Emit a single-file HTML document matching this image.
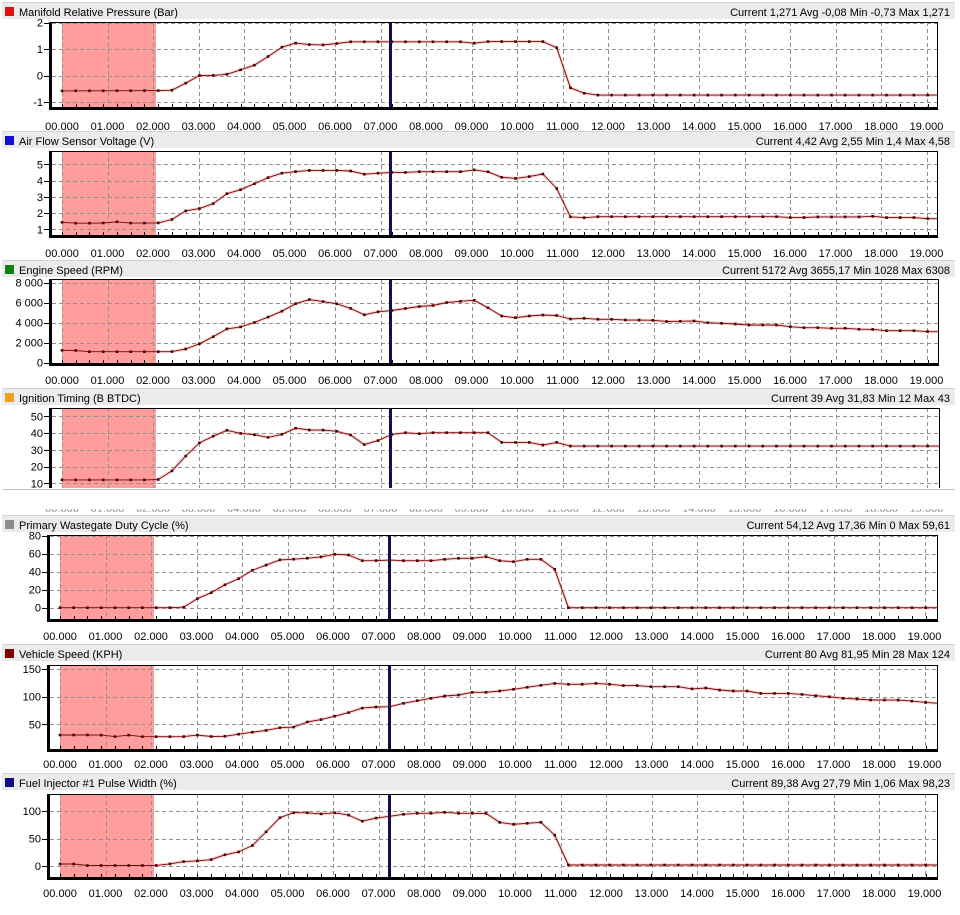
<!DOCTYPE html>
<html><head><meta charset="utf-8">
<style>
html,body{margin:0;padding:0;background:#fff;}
svg{display:block;}
text{font-family:"Liberation Sans",Arial,sans-serif;font-size:11px;fill:#000;}
</style></head>
<body>
<svg id="s" width="960" height="915" viewBox="0 0 960 915" xmlns="http://www.w3.org/2000/svg"></svg>
<script>
const P=[
{t:"Manifold Relative Pressure (Bar)",c:"#e01010",st:"Current 1,271 Avg -0,08 Min -0,73 Max 1,271",h:2,top:22,bot:107,lab:130,x0:62,L:52,R:937,cx:389,re:156,b:75.5,m:26.5,
 tk:[[2,"2"],[1,"1"],[0,"0"],[-1,"-1"]],
 kp:[[0,-0.58],[2.1,-0.57],[2.4,-0.57],[2.7,-0.31],[3.0,0],[3.3,0],[3.6,0.03],[3.9,0.2],[4.2,0.36],[4.5,0.68],[4.8,1.05],[5.1,1.23],[5.4,1.17],[5.7,1.15],[6.0,1.2],[6.3,1.27],[8.9,1.27],[9.06,1.22],[9.3,1.28],[10.57,1.28],[10.87,1.06],[11.17,-0.46],[11.48,-0.67],[11.78,-0.74],[20,-0.74]]},
{t:"Air Flow Sensor Voltage (V)",c:"#1010d0",st:"Current 4,42 Avg 2,55 Min 1,4 Max 4,58",h:131,top:151,bot:235,lab:257,x0:62,L:52,R:937,cx:389,re:156,b:245.5,m:16.25,
 tk:[[5,"5"],[4,"4"],[3,"3"],[2,"2"],[1,"1"]],
 kp:[[0,1.43],[0.3,1.37],[0.9,1.38],[1.2,1.46],[1.5,1.38],[2.1,1.38],[2.4,1.57],[2.7,2.12],[3.0,2.25],[3.3,2.53],[3.6,3.17],[3.9,3.4],[4.2,3.77],[4.5,4.15],[4.8,4.44],[5.1,4.54],[5.4,4.62],[6.3,4.62],[6.6,4.38],[6.9,4.44],[7.2,4.5],[7.55,4.5],[7.85,4.54],[8.76,4.54],[9.06,4.65],[9.36,4.54],[9.66,4.2],[9.96,4.13],[10.27,4.24],[10.57,4.4],[10.87,3.52],[11.17,1.77],[11.48,1.71],[11.78,1.77],[15.7,1.77],[16.0,1.72],[16.3,1.72],[16.6,1.76],[17.5,1.76],[17.8,1.8],[18.1,1.72],[18.7,1.72],[19.03,1.65],[20,1.64]]},
{t:"Engine Speed (RPM)",c:"#108010",st:"Current 5172 Avg 3655,17 Min 1028 Max 6308",h:260,top:279,bot:363,lab:384,x0:62,L:52,R:938,cx:389,re:156,b:362.5,m:0.01,
 tk:[[8000,"8 000"],[6000,"6 000"],[4000,"4 000"],[2000,"2 000"],[0,"0"]],
 kp:[[0,1220],[0.3,1200],[0.6,1080],[2.4,1080],[2.7,1320],[3.0,1820],[3.3,2520],[3.6,3350],[3.9,3520],[4.2,3950],[4.5,4480],[4.8,5050],[5.1,5820],[5.4,6308],[5.7,6120],[6.0,5920],[6.3,5520],[6.6,4720],[6.9,5050],[7.2,5172],[7.55,5400],[7.85,5600],[8.15,5700],[8.45,6000],[8.76,6120],[9.06,6220],[9.36,5480],[9.66,4650],[9.96,4480],[10.27,4650],[10.57,4750],[10.87,4700],[11.17,4350],[11.48,4420],[11.78,4320],[12.08,4320],[12.39,4250],[12.99,4220],[13.3,4100],[13.95,4150],[14.2,3980],[14.5,3920],[14.81,3850],[15.1,3750],[15.7,3750],[16.0,3580],[16.3,3480],[16.62,3480],[16.9,3420],[17.2,3420],[17.54,3320],[17.8,3320],[18.1,3180],[18.75,3180],[19.06,3080],[20,3080]]},
{t:"Ignition Timing (B BTDC)",c:"#f0a020",st:"Current 39 Avg 31,83 Min 12 Max 43",h:388,top:408,bot:488,lab:512,cut:true,x0:62,L:52,R:939,cx:389,re:156,b:500,m:1.675,
 tk:[[50,"50"],[40,"40"],[30,"30"],[20,"20"],[10,"10"]],
 kp:[[0,12],[2.1,12],[2.4,16.9],[2.7,25.7],[3.0,33.8],[3.3,37.8],[3.6,41.8],[3.9,39.8],[4.2,39.2],[4.5,37.2],[4.8,38.8],[5.1,43],[5.4,41.8],[5.7,41.8],[6.0,41.2],[6.3,39.8],[6.6,32.8],[6.9,34.8],[7.2,39],[7.55,40.2],[7.85,39.6],[8.15,40.2],[9.36,40.2],[9.66,34.4],[10.27,34.4],[10.57,32.8],[10.87,34.4],[11.17,32.2],[20,32.2]]},
{t:"Primary Wastegate Duty Cycle (%)",c:"#8c8c8c",st:"Current 54,12 Avg 17,36 Min 0 Max 59,61",h:515,top:535,bot:619,lab:640,x0:60,L:50,R:937,cx:388,re:154,b:607.7,m:0.9,
 tk:[[80,"80"],[60,"60"],[40,"40"],[20,"20"],[0,"0"]],
 kp:[[0,0],[2.7,0],[3.0,9.7],[3.3,16],[3.6,24.9],[3.9,31.5],[4.2,41],[4.5,46.7],[4.8,53],[5.1,53.8],[5.4,54.9],[5.7,56],[6.0,59.3],[6.3,59.6],[6.6,52.2],[6.9,52.2],[7.2,53],[7.55,52.2],[8.15,52.2],[8.45,53.8],[8.76,54.9],[9.06,54.9],[9.36,56.7],[9.66,52.2],[9.96,51.1],[10.27,53.8],[10.57,53.8],[10.87,43],[11.17,0],[20,0]]},
{t:"Vehicle Speed (KPH)",c:"#800000",st:"Current 80 Avg 81,95 Min 28 Max 124",h:644,top:665,bot:749,lab:768,x0:60,L:50,R:937,cx:388,re:154,b:752,m:0.553,
 tk:[[150,"150"],[100,"100"],[50,"50"]],
 kp:[[0,30.7],[0.9,30.7],[1.2,27.7],[1.5,30.7],[1.8,27.7],[2.7,27.7],[3.0,30.7],[3.3,28],[3.6,28],[3.9,31.9],[4.2,35.5],[4.5,38.6],[4.8,44],[5.1,44],[5.4,53.7],[5.7,57.9],[6.0,63.9],[6.3,69.9],[6.6,79],[6.9,81.4],[7.2,81],[7.55,88],[7.85,92.8],[8.15,97],[8.45,101.3],[8.76,103],[9.06,108],[9.36,108],[9.66,110.3],[9.96,113.3],[10.27,117],[10.57,120.6],[10.87,124],[11.17,122.4],[11.48,122.4],[11.78,124],[12.08,122.4],[12.39,120],[12.69,120],[12.99,118],[13.6,118],[13.95,113.3],[14.15,116.3],[14.5,112],[14.8,110.3],[15.1,110.3],[15.4,106],[16.0,106],[16.3,104.3],[16.6,101.8],[16.9,100],[17.23,97],[17.5,96],[17.8,94],[18.4,94],[18.7,92.2],[19.0,89.9],[19.3,88],[20,86]]},
{t:"Fuel Injector #1 Pulse Width (%)",c:"#101080",st:"Current 89,38 Avg 27,79 Min 1,06 Max 98,23",h:773,top:794,bot:877,lab:897,x0:60,L:50,R:937,cx:388,re:154,b:866,m:0.55,
 tk:[[100,"100"],[50,"50"],[0,"0"]],
 kp:[[0,3.6],[0.3,3.6],[0.6,1],[2.1,1],[2.4,3.6],[2.7,7.9],[3.0,9.1],[3.3,10.9],[3.6,20],[3.9,24.8],[4.2,35],[4.5,59.4],[4.8,86.7],[5.1,97],[5.4,97],[5.7,94.5],[6.0,97],[6.3,94.5],[6.6,80.6],[6.9,86.7],[7.2,89.7],[7.55,94],[7.85,95.8],[8.15,95.8],[8.45,97.6],[8.76,95.8],[9.36,95.8],[9.66,79.4],[9.96,75.8],[10.27,77.6],[10.57,79.4],[10.87,56.4],[11.17,1.8],[20,1.8]]}
];
function interp(kp,t){for(let i=0;i<kp.length-1;i++){if(t<=kp[i+1][0]){const a=kp[i],b=kp[i+1];return a[1]+(b[1]-a[1])*(t-a[0])/(b[0]-a[0]);}}return kp[kp.length-1][1];}
const SC=45.5;
let s="<defs>";
P.forEach((p,i)=>{s+=`<clipPath id="c${i}"><rect x="${p.L}" y="${p.top}" width="${p.R-p.L}" height="${p.bot-p.top}"/></clipPath>`;});
s+=`<clipPath id="rem"><rect x="0" y="509.5" width="960" height="2"/></clipPath></defs>`;
P.forEach((p,i)=>{
  s+=`<rect x="2" y="${p.h}" width="953" height="17" fill="#ebebeb"/>`;
  s+=`<line x1="2" y1="${p.h+0.5}" x2="955" y2="${p.h+0.5}" stroke="#d2d2d2"/>`;
  s+=`<rect x="5" y="${p.h+5}" width="9" height="9" fill="${p.c}"/>`;
  s+=`<text x="19" y="${p.h+14}">${p.t}</text>`;
  s+=`<text x="950" y="${p.h+14}" text-anchor="end">${p.st}</text>`;
  const H=p.bot-p.top;
  s+=`<g clip-path="url(#c${i})">`;
  s+=`<rect x="${p.L}" y="${p.top}" width="${p.R-p.L}" height="${H}" fill="#fff"/>`;
  s+=`<rect x="${p.x0}" y="${p.top}" width="${p.re-p.x0}" height="${H}" fill="#ff9c9c"/>`;
  for(let k=0;k<=19;k++){const X=Math.round(p.x0+SC*k)+0.5;s+=`<line x1="${X}" y1="${p.top}" x2="${X}" y2="${p.bot}" stroke="#909090" stroke-dasharray="4,3"/>`;}
  p.tk.forEach(tk=>{const Y=Math.round(p.b-p.m*tk[0])+0.5;s+=`<line x1="${p.L}" y1="${Y}" x2="${p.R}" y2="${Y}" stroke="#909090" stroke-dasharray="4,3"/>`;});
  let pts=[];
  for(let k=0;k<=65;k++){const t=k*0.302;const v=interp(p.kp,t);pts.push([p.x0+SC*t,p.b-p.m*v]);}
  const ps=pts.map(q=>q[0].toFixed(1)+","+q[1].toFixed(1)).join(" ");
  s+=`<polyline points="${ps}" fill="none" stroke="#f29a9a" stroke-width="3" stroke-opacity="0.45" stroke-linejoin="round"/>`;
  s+=`<polyline points="${ps}" fill="none" stroke="#7a0808" stroke-width="0.9" stroke-linejoin="round"/>`;
  pts.forEach(q=>{s+=`<rect x="${(q[0]-1.3).toFixed(1)}" y="${(q[1]-1.3).toFixed(1)}" width="2.6" height="2.6" fill="#4a0505"/>`;});
  s+=`<rect x="${p.cx}" y="${p.top}" width="3" height="${H}" fill="#10104c"/>`;
  s+=`</g>`;
  s+=`<line x1="${p.L}" y1="${p.top+0.5}" x2="${p.R+1}" y2="${p.top+0.5}" stroke="#000"/>`;
  s+=`<line x1="${p.R+0.5}" y1="${p.top}" x2="${p.R+0.5}" y2="${p.bot}" stroke="#000"/>`;
  s+=`<rect x="${p.L-3}" y="${p.top}" width="3" height="${p.cut?H:H+3}" fill="#000"/>`;
  if(!p.cut){
    s+=`<rect x="${p.L-3}" y="${p.bot}" width="${p.R-p.L+4}" height="3" fill="#000"/>`;
    for(let k=0;k<=64;k++){const X=Math.round(p.x0+SC*0.302*k)+0.5;if(X<p.R)s+=`<line x1="${X}" y1="${p.bot-3}" x2="${X}" y2="${p.bot}" stroke="#000"/>`;}
  }
  p.tk.forEach(tk=>{const Y=p.b-p.m*tk[0];s+=`<line x1="${p.L-8}" y1="${Math.round(Y)+0.5}" x2="${p.L-3}" y2="${Math.round(Y)+0.5}" stroke="#000"/>`;s+=`<text x="${p.L-9}" y="${(Y+4).toFixed(1)}" text-anchor="end">${tk[1]}</text>`;});
  let lab="";
  for(let k=0;k<=19;k++){const X=p.x0+SC*k;const t=(k<10?"0":"")+k+".000";lab+=`<text x="${X.toFixed(1)}" y="${p.lab}" text-anchor="middle">${t}</text>`;}
  if(p.cut){
    s+=`<g clip-path="url(#rem)" opacity="0.6">${lab}</g>`;
    s+=`<line x1="3" y1="489.5" x2="955" y2="489.5" stroke="#c4c4c4"/>`;
  } else s+=lab;
});
document.getElementById('s').innerHTML=s;
</script>
</body></html>
